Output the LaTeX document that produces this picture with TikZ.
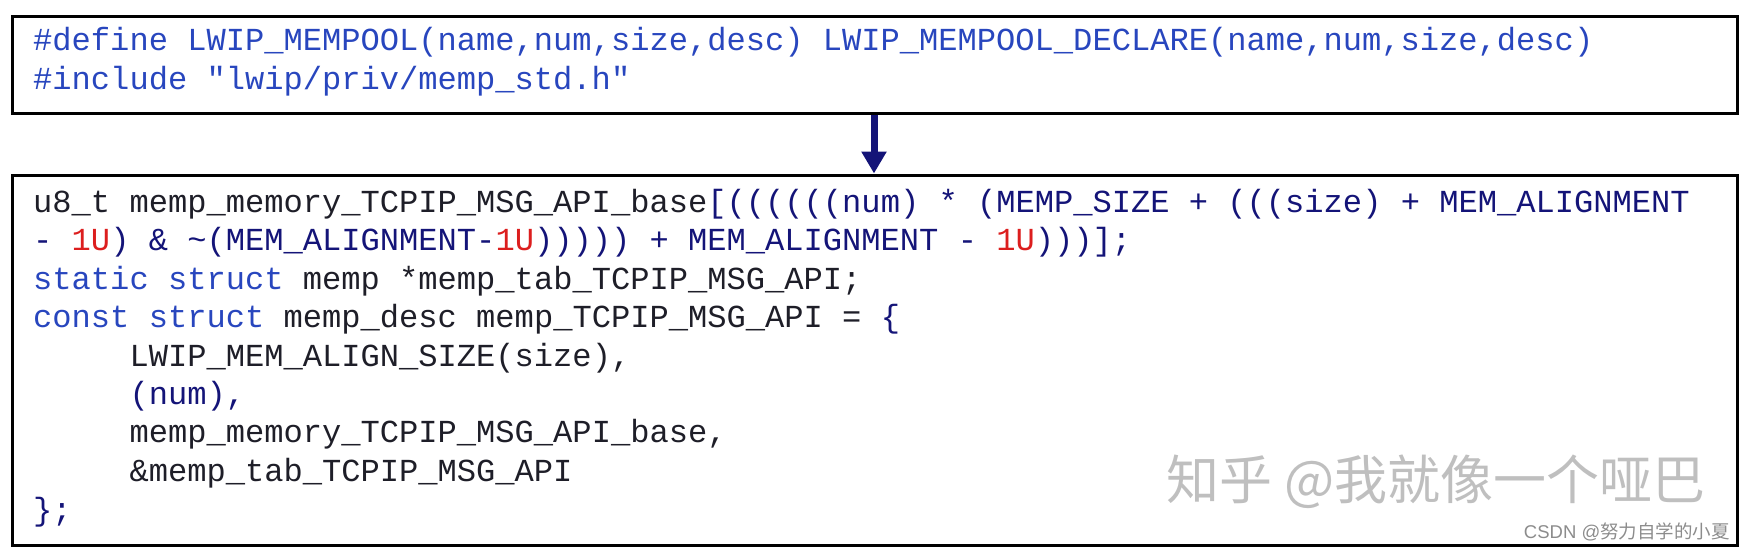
\documentclass[tikz,border=0pt]{standalone}
\usepackage{fontspec}
\setmonofont{Liberation Mono}
\newfontfamily\cjk{Noto Sans CJK SC}
\usetikzlibrary{arrows.meta}
\definecolor{kwblue}{RGB}{40,70,190}
\definecolor{idnavy}{RGB}{20,20,120}
\definecolor{numred}{RGB}{220,30,30}
\definecolor{codeblk}{RGB}{30,30,40}
\newcommand{\kw}[1]{\textcolor{kwblue}{#1}}
\newcommand{\nv}[1]{\textcolor{idnavy}{#1}}
\newcommand{\nm}[1]{\textcolor{numred}{#1}}
\tikzset{
  box/.style={draw, line width=3pt, minimum width=1725pt, inner sep=0pt},
  code/.style={anchor=west, inner sep=0pt, font=\fontsize{32.1}{38}\ttfamily, text=codeblk},
  flow/.style={draw=idnavy, line width=7pt, -{Triangle[width=24pt,length=22pt]}},
}
\begin{document}
\begin{tikzpicture}[x=1pt,y=1pt]
   \useasboundingbox (0,0) rectangle (1750,-552);
   \node[box, minimum height=97pt] (defbox) at (874.5,-64.5) {};
   \node[box, minimum height=370pt] (expbox) at (874.5,-360) {};
   \draw[flow] (defbox.south -| 874,0) -- (expbox.north -| 874,0);
   % header lines
   \node[code, text=kwblue] (d1) at (33,-42) {\#define LWIP\_MEMPOOL(name,num,size,desc) LWIP\_MEMPOOL\_DECLARE(name,num,size,desc)};
   \node[code, text=kwblue] (d2) at (33,-81) {\#include "lwip/priv/memp\_std.h"};
   % expanded code
   \node[code] (c1) at (33,-204) {u8\_t memp\_memory\_TCPIP\_MSG\_API\_base\nv{[((((((num) * (MEMP\_SIZE + (((size) + MEM\_ALIGNMENT}};
   \node[code] (c2) at (33,-242) {\nv{- \nm{1U}) \& \textasciitilde(MEM\_ALIGNMENT-\nm{1U}))))) + MEM\_ALIGNMENT - \nm{1U})))];}};
   \node[code] (c3) at (33,-281) {\kw{static struct} memp *memp\_tab\_TCPIP\_MSG\_API;};
   \node[code] (c4) at (33,-319) {\kw{const struct} memp\_desc memp\_TCPIP\_MSG\_API = \nv{\{}};
   \node[code] (c5) at (33,-358) {\ \ \ \ \ LWIP\_MEM\_ALIGN\_SIZE(size),};
   \node[code] (c6) at (33,-396) {\ \ \ \ \ \nv{(num),}};
   \node[code] (c7) at (33,-434) {\ \ \ \ \ memp\_memory\_TCPIP\_MSG\_API\_base,};
   \node[code] (c8) at (33,-473) {\ \ \ \ \ \&memp\_tab\_TCPIP\_MSG\_API};
   \node[code] (c9) at (33,-512) {\nv{\};}};
   % watermarks
   \node[anchor=west, inner sep=0pt, text=black!25, font=\cjk\fontsize{53}{53}\selectfont] (wm1) at (1166,-482) {知乎 @我就像一个哑巴};
   \node[anchor=east, inner sep=0pt, text=black!45, font=\fontspec{Liberation Sans}\fontsize{18.5}{18.5}\selectfont] (wm2) at (1730,-532) {CSDN @{\cjk 努力自学的小夏}};
\end{tikzpicture}
\end{document}
